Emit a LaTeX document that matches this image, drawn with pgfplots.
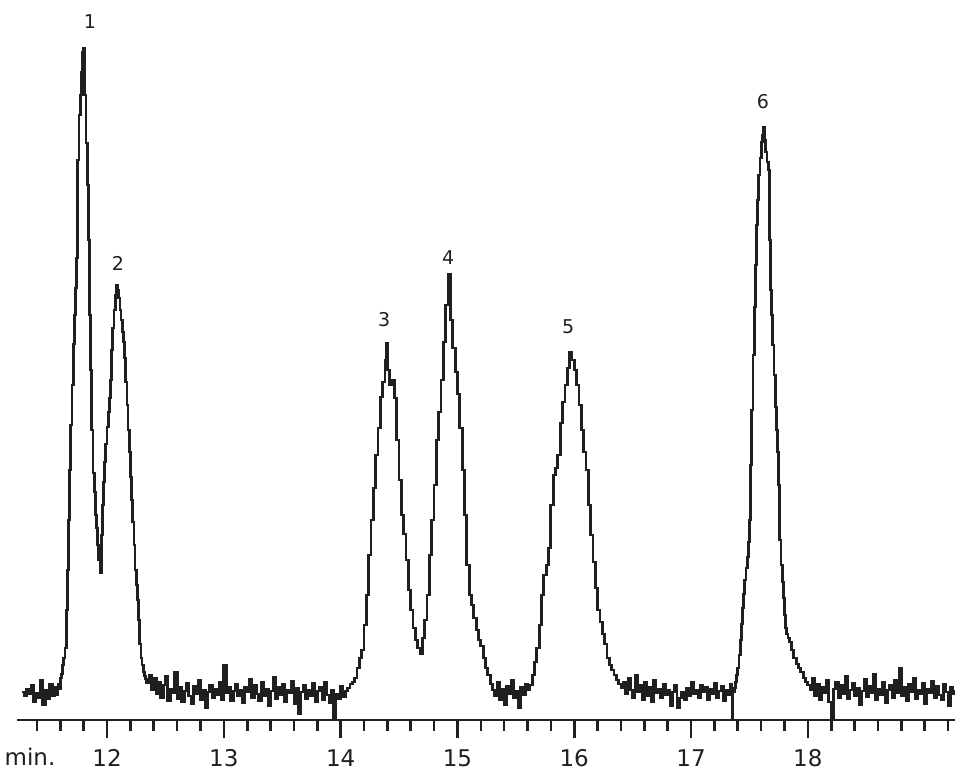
\documentclass[border=0pt]{standalone}
\usepackage{pgfplots}
\pgfplotsset{compat=1.18}
\usepackage{fontspec}
\setmainfont{DejaVu Sans}

% chromatogram trace, time in min, signal in arbitrary units (0 = axis line)
\pgfplotstableread{
t y
11.27 28
11.29 24
11.31 31
11.33 26
11.35 35
11.37 18
11.39 27
11.41 22
11.43 40
11.45 15
11.47 30
11.49 21
11.51 36
11.53 24
11.55 33
11.56 30
11.57 25
11.58 36
11.59 31
11.60 42
11.61 46
11.62 55
11.63 62
11.64 72
11.65 110
11.66 150
11.67 200
11.68 250
11.69 295
11.70 335
11.71 376
11.72 405
11.73 432
11.74 462
11.75 560
11.76 605
11.77 625
11.78 648
11.79 668
11.80 672
11.81 625
11.82 577
11.83 535
11.84 480
11.85 405
11.86 350
11.87 290
11.88 247
11.89 228
11.90 205
11.91 192
11.92 175
11.93 160
11.94 147
11.95 185
11.96 215
11.97 238
11.98 258
11.99 276
12.00 293
12.01 308
12.02 322
12.03 340
12.04 370
12.05 392
12.06 410
12.07 425
12.08 435
12.09 430
12.10 422
12.11 410
12.12 400
12.13 388
12.14 378
12.15 362
12.16 338
12.17 315
12.18 290
12.19 268
12.20 243
12.21 220
12.22 198
12.23 175
12.24 150
12.25 135
12.26 120
12.27 100
12.28 76
12.29 62
12.30 55
12.31 48
12.32 44
12.33 41
12.34 37
12.36 45
12.38 30
12.40 42
12.42 26
12.44 38
12.46 22
12.48 35
12.50 44
12.52 19
12.54 31
12.56 27
12.58 48
12.60 21
12.62 33
12.64 18
12.66 29
12.68 37
12.70 24
12.72 16
12.74 34
12.76 26
12.78 40
12.80 20
12.82 30
12.84 12
12.86 28
12.88 35
12.90 22
12.92 31
12.94 25
12.96 38
12.98 20
13.00 55
13.02 27
13.04 33
13.06 19
13.08 29
13.10 36
13.12 24
13.14 30
13.16 17
13.18 33
13.20 28
13.22 41
13.24 22
13.26 35
13.28 26
13.30 19
13.32 38
13.34 24
13.36 31
13.38 14
13.40 29
13.42 43
13.44 21
13.46 33
13.48 25
13.50 36
13.52 18
13.54 30
13.56 27
13.58 39
13.60 16
13.62 32
13.64 6
13.66 28
13.68 35
13.70 21
13.72 30
13.74 24
13.76 37
13.78 18
13.80 29
13.82 33
13.84 20
13.86 38
13.88 25
13.90 17
13.92 30
13.94 2
13.96 26
13.98 21
14.00 34
14.02 23
14.04 29
14.06 32
14.08 36
14.10 38
14.12 42
14.14 52
14.16 62
14.18 70
14.20 95
14.22 125
14.24 165
14.26 200
14.28 232
14.30 265
14.32 292
14.34 323
14.36 338
14.38 360
14.39 377
14.40 350
14.42 335
14.44 340
14.46 322
14.48 280
14.50 240
14.52 205
14.54 186
14.56 160
14.58 130
14.60 110
14.62 92
14.64 80
14.66 72
14.68 66
14.70 82
14.72 100
14.74 125
14.76 165
14.78 200
14.80 235
14.82 280
14.84 308
14.86 340
14.88 378
14.90 415
14.92 446
14.94 400
14.96 372
14.98 348
15.00 326
15.02 292
15.04 250
15.06 205
15.08 155
15.10 125
15.12 115
15.14 102
15.16 90
15.18 80
15.20 74
15.22 62
15.24 52
15.26 45
15.28 36
15.30 30
15.32 24
15.34 38
15.36 20
15.38 31
15.40 15
15.42 34
15.44 26
15.46 40
15.48 22
15.50 29
15.52 12
15.54 33
15.56 25
15.58 36
15.60 30
15.62 35
15.64 45
15.66 58
15.68 72
15.70 95
15.72 125
15.74 145
15.76 155
15.78 172
15.80 215
15.82 245
15.84 252
15.86 265
15.88 297
15.90 318
15.92 335
15.94 352
15.96 368
15.98 360
16.00 350
16.02 335
16.04 315
16.06 290
16.08 268
16.10 250
16.12 215
16.14 185
16.16 158
16.18 132
16.20 110
16.22 98
16.24 86
16.26 76
16.28 62
16.30 55
16.32 50
16.34 45
16.36 40
16.38 36
16.40 32
16.42 38
16.44 26
16.46 42
16.48 30
16.50 22
16.52 45
16.54 28
16.56 35
16.58 20
16.60 38
16.62 24
16.64 33
16.66 18
16.68 40
16.70 27
16.72 31
16.74 22
16.76 36
16.78 25
16.80 30
16.82 14
16.84 28
16.86 35
16.88 12
16.90 22
16.92 28
16.94 20
16.96 32
16.98 24
17.00 38
17.02 26
17.04 30
17.06 22
17.08 35
17.10 28
17.12 33
17.14 20
17.16 31
17.18 26
17.20 37
17.22 22
17.24 29
17.26 34
17.28 19
17.30 30
17.32 25
17.34 36
17.35 2
17.36 28
17.37 32
17.38 38
17.39 45
17.40 52
17.41 65
17.42 80
17.43 96
17.44 112
17.45 126
17.46 140
17.47 152
17.48 163
17.49 178
17.50 200
17.51 255
17.52 310
17.53 365
17.54 413
17.55 455
17.56 495
17.57 520
17.58 545
17.59 562
17.60 578
17.61 585
17.62 593
17.63 580
17.64 568
17.65 558
17.66 550
17.67 480
17.68 430
17.69 405
17.70 375
17.71 345
17.72 313
17.73 290
17.74 268
17.75 235
17.76 180
17.77 155
17.78 138
17.79 122
17.80 105
17.81 92
17.82 86
17.83 82
17.84 78
17.86 70
17.88 62
17.90 56
17.92 52
17.94 48
17.96 42
17.98 38
18.00 35
18.02 30
18.04 42
18.06 24
18.08 36
18.10 20
18.12 33
18.14 27
18.16 40
18.18 18
18.20 2
18.22 31
18.24 38
18.26 22
18.28 35
18.30 26
18.32 44
18.34 21
18.36 30
18.38 37
18.40 24
18.42 32
18.44 15
18.46 29
18.48 41
18.50 23
18.52 34
18.54 27
18.56 46
18.58 20
18.60 31
18.62 25
18.64 38
18.66 17
18.68 30
18.70 35
18.72 22
18.74 40
18.76 27
18.78 52
18.80 24
18.82 33
18.84 19
18.86 36
18.88 28
18.90 42
18.92 21
18.94 30
18.96 26
18.98 37
19.00 16
19.02 31
19.04 27
19.06 39
19.08 22
19.10 34
19.12 25
19.14 20
19.16 36
19.18 28
19.20 14
19.22 33
19.24 26
19.25 30
}\trace

\begin{document}
\begin{tikzpicture}
\begin{axis}[
    scale only axis,
    width=469pt, height=360pt,
    xmin=11.229, xmax=19.26,
    ymin=0, ymax=720,
    axis x line=bottom,
    axis y line=none,
    axis line style={line width=1.3pt, draw=black!88, -},
    xtick={12,13,14,15,16,17,18},
    xticklabels={12,13,14,15,16,17,18},
    minor xtick={11.4,11.6,11.8,12.2,12.4,12.6,12.8,13.2,13.4,13.6,13.8,14.2,14.4,14.6,14.8,15.2,15.4,15.6,15.8,16.2,16.4,16.6,16.8,17.2,17.4,17.6,17.8,18.2,18.4,18.6,18.8,19.0,19.2},
    tick align=outside,
    major tick length=9pt,
    minor tick length=5.5pt,
    tick style={line width=1.3pt, draw=black!88},
    xticklabel style={anchor=base, yshift=-14pt, font=\fontsize{11.5}{12}\selectfont, text=black!88},
    clip=false,
]
\addplot[const plot, line width=1.4pt, draw=black!88] table[x=t, y=y] {\trace};

\node[anchor=base, yshift=-22.5pt, font=\fontsize{11.5}{12}\selectfont, text=black!88] at (axis cs:11.34,0) {min.};

\begin{scope}[font=\fontsize{9.5}{10}\selectfont]
\node[text=black!88] at (axis cs:11.854,698) {1};
\node[text=black!88] at (axis cs:12.094,457) {2};
\node[text=black!88] at (axis cs:14.372,400) {3};
\node[text=black!88] at (axis cs:14.920,462) {4};
\node[text=black!88] at (axis cs:15.947,393) {5};
\node[text=black!88] at (axis cs:17.616,618) {6};
\end{scope}
\end{axis}
\pgfresetboundingbox
\path[use as bounding box] ([shift={(-8.5pt,-26.5pt)}]current axis.south west) rectangle ([shift={(3pt,0pt)}]current axis.north east);
\end{tikzpicture}
\end{document}
